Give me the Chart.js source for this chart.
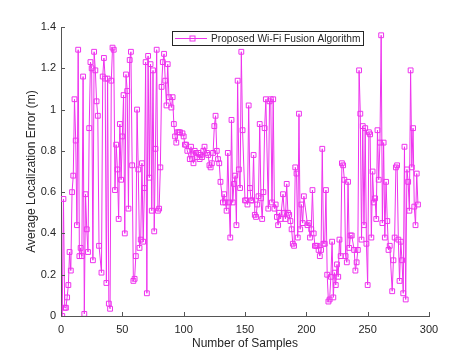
<!DOCTYPE html>
<html>
<head>
<meta charset="utf-8">
<script src="https://cdn.jsdelivr.net/npm/chart.js@4"></script>
<style>
html,body{margin:0;padding:0;background:#fff;}
#wrap{width:474px;height:355px;position:relative;}
</style>
</head>
<body>
<div id="wrap"><canvas id="c" width="474" height="355"></canvas></div>
<script>
const seriesName = 'Proposed Wi-Fi Fusion Algorithm';
const xTitle = 'Number of Samples';
const yTitle = 'Average Localization Error (m)';
const xTicks = [0, 50, 100, 150, 200, 250, 300];
const yTicks = [0, 0.2, 0.4, 0.6, 0.8, 1, 1.2, 1.4];

const samples = [
1,2,3,4,5,6,7,8,9,10,11,12,13,14,15,16,17,18,19,20,
21,22,23,24,25,26,27,28,29,30,31,33,34,35,36,37,38,39,40,
41,42,43,44,45,46,47,48,49,50,51,52,53,54,55,56,57,58,59,60,
61,62,63,64,65,66,67,68,69,70,71,72,73,74,75,76,77,78,79,80,
81,82,83,84,85,86,87,88,90,91,92,93,94,95,96,97,99,100,
101,102,103,105,106,107,108,109,110,111,112,113,114,115,116,117,119,120,
121,122,123,124,125,126,127,128,129,130,132,133,134,135,136,137,138,139,140,
141,142,143,144,145,146,147,148,150,151,152,153,154,155,156,157,158,159,160,
161,162,163,164,165,166,167,169,170,171,172,173,174,175,176,177,178,179,
181,182,183,184,185,186,187,188,189,190,191,192,193,194,195,196,197,198,
201,202,203,204,205,206,207,208,209,210,211,212,213,214,215,216,217,218,219,220,
221,222,223,224,225,226,227,228,229,230,231,232,233,234,235,236,237,239,240,
241,242,243,244,245,246,247,248,249,250,251,252,253,254,255,256,257,258,259,260,
261,262,263,264,265,266,267,268,270,271,272,273,274,275,276,277,278,279,280,
281,282,283,284,285,286,287,288,289,290,291
];
const errors = [
0.00,0.567,0.04,0.04,0.09,0.15,0.31,0.22,0.60,0.68,1.05,0.85,0.44,1.29,0.29,0.33,0.29,1.16,0.01,0.59,
0.42,0.31,0.91,1.23,1.20,0.27,1.28,1.19,1.04,0.97,0.34,0.21,1.16,1.25,1.15,0.16,1.15,0.06,0.035,
1.14,1.30,1.29,0.61,0.83,0.71,0.47,0.93,0.66,0.87,1.07,0.40,1.17,1.09,0.52,1.24,1.28,0.73,0.17,0.18,
0.29,1.00,0.71,0.33,0.37,0.74,0.36,0.62,1.23,0.11,1.26,0.67,1.22,0.51,1.19,0.41,0.81,1.29,0.51,0.52,
0.72,1.11,1.23,1.27,1.14,1.02,1.22,1.06,1.01,1.06,0.93,0.87,0.84,0.89,0.89,0.89,0.885,0.87,
0.83,0.83,0.80,0.76,0.82,0.76,0.74,0.80,0.79,0.77,0.79,0.76,0.78,0.77,0.80,0.82,0.79,0.78,
0.73,0.72,0.74,0.79,0.92,0.97,0.80,0.76,0.74,0.65,0.55,0.59,0.55,0.51,0.79,0.55,0.38,0.95,0.55,
0.64,0.68,0.44,1.14,0.71,0.62,1.28,0.90,0.56,0.56,0.54,1.02,0.62,0.56,0.56,0.78,0.49,0.48,0.54,
0.58,0.93,0.57,0.47,0.60,0.91,1.05,0.52,1.04,1.05,0.55,1.05,0.52,0.54,0.48,0.44,0.50,0.47,
0.59,0.50,0.47,0.64,0.50,0.49,0.46,0.42,0.35,0.34,0.72,0.69,0.38,0.98,0.42,0.54,0.45,0.58,
0.44,0.45,0.38,0.42,0.61,0.40,0.34,0.34,0.34,0.32,0.29,0.32,0.81,0.35,0.35,0.61,0.20,0.07,0.08,0.19,
0.36,0.09,0.21,0.15,0.25,0.19,0.37,0.29,0.74,0.73,0.66,0.29,0.26,0.65,0.33,0.39,0.39,0.32,0.22,
0.26,0.32,1.19,0.98,0.37,0.92,0.44,0.91,0.35,0.15,0.89,0.88,0.38,0.70,0.55,0.57,0.47,0.90,0.66,0.84,
1.36,0.45,0.84,0.38,0.65,0.46,0.32,0.34,0.12,0.27,0.38,0.72,0.73,0.37,0.17,0.36,0.27,0.11,0.82,
0.08,0.71,0.65,0.51,1.19,0.72,0.91,0.53,0.44,0.69,0.54
];

const MAG = '#ee33ee';
const AXIS = '#555555';
const TXT = '#262626';
const FONT = 'Arial, "Liberation Sans", Helvetica, sans-serif';

const pts = samples.map((s, i) => ({x: s, y: errors[i]}));

const extras = {
  id: 'extras',
  afterDraw(chart) {
    const ctx = chart.ctx;
    const xs = chart.scales.x, ys = chart.scales.y;
    const ca = chart.chartArea;
    ctx.save();
    ctx.strokeStyle = AXIS;
    ctx.lineWidth = 1;
    ctx.beginPath();
    xTicks.forEach(v => {
      const px = Math.round(xs.getPixelForValue(v)) + 0.5;
      ctx.moveTo(px, ca.bottom);
      ctx.lineTo(px, ca.bottom - 4);
    });
    yTicks.forEach(v => {
      const py = Math.round(ys.getPixelForValue(v)) + 0.5;
      ctx.moveTo(ca.left, py);
      ctx.lineTo(ca.left + 4, py);
    });
    ctx.stroke();

    // legend
    const bx = 172.5, by = 31.5, bw = 191, bh = 14;
    ctx.fillStyle = '#ffffff';
    ctx.fillRect(bx, by, bw, bh);
    ctx.strokeStyle = '#262626';
    ctx.lineWidth = 1;
    ctx.strokeRect(bx, by, bw, bh);
    const ly = by + bh / 2;
    ctx.strokeStyle = MAG;
    ctx.beginPath();
    ctx.moveTo(175, ly);
    ctx.lineTo(207, ly);
    ctx.stroke();
    ctx.strokeRect(192.5 - 2.5, ly - 2.5, 5, 5);
    ctx.fillStyle = TXT;
    ctx.font = '10.2px ' + FONT;
    ctx.textBaseline = 'middle';
    ctx.textAlign = 'left';
    ctx.fillText(seriesName, 211, ly + 0.5);
    ctx.restore();
  }
};

new Chart(document.getElementById('c'), {
  type: 'line',
  data: {
    datasets: [{
      label: seriesName,
      data: pts,
      borderColor: MAG,
      backgroundColor: 'rgba(0,0,0,0)',
      borderWidth: 1,
      pointStyle: 'rect',
      pointRadius: 3.4,
      pointBorderWidth: 1,
      pointBorderColor: MAG,
      pointBackgroundColor: 'rgba(0,0,0,0)',
      tension: 0,
      fill: false
    }]
  },
  options: {
    responsive: false,
    animation: false,
    devicePixelRatio: 1,
    layout: {padding: {left: 0, top: 27, right: 45, bottom: 0}},
    plugins: {legend: {display: false}, tooltip: {enabled: false}},
    scales: {
      x: {
        type: 'linear',
        min: 0, max: 300,
        afterFit: s => { s.height = 39; },
        afterBuildTicks: s => { s.ticks = xTicks.map(v => ({value: v})); },
        grid: {display: false, drawTicks: false},
        border: {display: true, color: AXIS, width: 1},
        ticks: {color: TXT, font: {size: 11, family: FONT}, padding: 7, maxRotation: 0,
          callback: v => String(v)},
        title: {display: true, text: xTitle, color: TXT, font: {size: 12, family: FONT},
          padding: {top: 0, bottom: 4.5}}
      },
      y: {
        type: 'linear',
        min: 0, max: 1.4,
        afterFit: s => { s.width = 61; },
        afterBuildTicks: s => { s.ticks = yTicks.map(v => ({value: v})); },
        grid: {display: false, drawTicks: false},
        border: {display: true, color: AXIS, width: 1},
        ticks: {color: TXT, font: {size: 11, family: FONT}, padding: 5,
          callback: v => String(Math.round(v * 10) / 10)},
        title: {display: true, text: yTitle, color: TXT, font: {size: 12, family: FONT},
          padding: {top: 24, bottom: 0}}
      }
    }
  },
  plugins: [extras]
});
</script>
</body>
</html>
